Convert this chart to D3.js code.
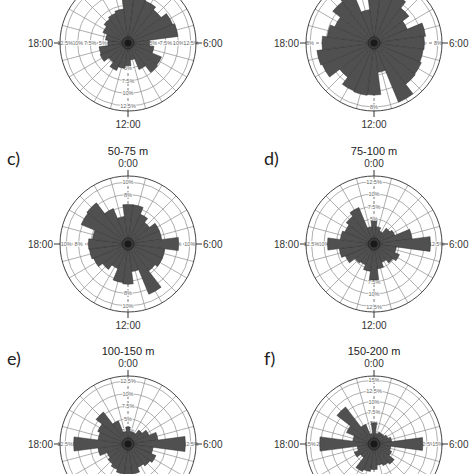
<!DOCTYPE html>
<html>
<head>
<meta charset="utf-8">
<script src="https://cdn.jsdelivr.net/npm/d3@7"></script>
<style>
html, body { margin: 0; padding: 0; background: #fff; }
svg { display: block; }
.ringlabels { opacity: 0.99; }
</style>
</head>
<body>
<div id="vis"></div>
<script>
// hourly share of records (%) per depth class
const hours = d3.range(24);
const panelLetters = ["a)", "b)", "c)", "d)", "e)", "f)"];
const panelTitles = [null, null, "50-75 m", "75-100 m", "100-150 m", "150-200 m"];
const valuesA = [11, 10, 9, 8.3, 9.6, 10, 4.3, 5.2, 7.2, 7.4, 5.7, 3.4, 4.5, 5.1, 5.9, 4.8, 6, 5.8, 4, 4.5, 5.4, 6, 6.4, 6.8];
const valuesB = [7.5, 7.2, 6.5, 5.5, 4.5, 6.5, 6.3, 6.2, 6.4, 6.5, 8, 3.7, 6.5, 6.6, 6.5, 5.4, 7, 7.2, 6.5, 5.9, 5.3, 6.5, 7, 4.2];
const valuesC = [6.4, 6.4, 5.2, 4.4, 5.5, 5.5, 8.2, 6, 6, 5.5, 8.8, 4.5, 6.5, 6.3, 4.3, 5.2, 6, 6.3, 6.4, 5.8, 8.2, 8.4, 6.2, 4.5];
const valuesD = [4.6, 3.5, 2.8, 4, 4.5, 7.7, 11.3, 4.5, 5.5, 4.8, 4, 5, 7.2, 5.5, 4.5, 4.8, 6.2, 7, 9.3, 6.8, 6.3, 7, 7.9, 3.5];
const valuesE = [3.4, 2.5, 2.5, 3.5, 4.5, 6, 11.4, 5, 6, 5.5, 5, 6, 9, 6, 5.5, 5, 4.5, 6, 10.8, 6, 6.5, 8, 5, 2.5];
const valuesF = [5, 2.5, 3, 3, 3.5, 4.2, 11.5, 4, 4.5, 6, 5.5, 5, 6, 6.5, 7, 4, 5, 4, 12.8, 5, 7, 11, 5, 2.5];
const scaleMax = [13.5, 8.5, 11, 13.6, 13.5, 16];
const ringStep = [2.5, 2, 2, 2.5, 2.5, 2.5];
const axisLabels = ["0:00", "6:00", "12:00", "18:00"];

const allValues = [valuesA, valuesB, valuesC, valuesD, valuesE, valuesF];

const width = 474, height = 474;
const R = 68;
const colX = [128, 374];
const rowY = [43, 244, 444];

const svg = d3.select("#vis").append("svg")
  .attr("width", width)
  .attr("height", height)
  .style("font-family", "'Liberation Sans', Arial, sans-serif");

const deg = Math.PI / 180;
const px = (a, r) => Math.sin(a) * r;
const py = (a, r) => -Math.cos(a) * r;

function drawRose(g, values, max, step) {
  const r = d3.scaleLinear().domain([0, max]).range([0, R]);
  const rings = d3.range(step, max, step);

  g.append("circle").attr("r", R).attr("fill", "#fff");

  g.selectAll(".ring").data(rings).join("circle")
    .attr("class", "ring")
    .attr("r", d => r(d))
    .attr("fill", "none")
    .attr("stroke", "#8c8c8c")
    .attr("stroke-width", 0.7);

  // spokes every hour, the four main axes get dashes
  g.selectAll(".spoke").data(hours.filter(h => h % 6 !== 0)).join("line")
    .attr("class", "spoke")
    .attr("x1", h => px(h * 15 * deg, r(step)))
    .attr("y1", h => py(h * 15 * deg, r(step)))
    .attr("x2", h => px(h * 15 * deg, R))
    .attr("y2", h => py(h * 15 * deg, R))
    .attr("stroke", "#8c8c8c")
    .attr("stroke-width", 0.7);

  g.selectAll(".axis").data([0, 6, 12, 18]).join("line")
    .attr("class", "axis")
    .attr("x1", 0).attr("y1", 0)
    .attr("x2", h => px(h * 15 * deg, R))
    .attr("y2", h => py(h * 15 * deg, R))
    .attr("stroke", "#555")
    .attr("stroke-width", 0.8)
    .attr("stroke-dasharray", "3,2");

  // ring value labels on the four axes (under the bars)
  const fmt = v => (+v.toFixed(1)) + "%";
  const lg = g.append("g").attr("class", "ringlabels");
  [0, 6, 12, 18].forEach(h => {
    lg.selectAll(".rl" + h).data(rings).join("text")
      .attr("class", "rl" + h)
      .attr("x", d => px(h * 15 * deg, r(d)))
      .attr("y", d => py(h * 15 * deg, r(d)) + 2)
      .attr("text-anchor", "middle")
      .attr("font-size", 5.5)
      .attr("fill", "#666")
      .attr("stroke", "#fff")
      .attr("stroke-width", 1.5)
      .attr("paint-order", "stroke")
      .text(fmt);
  });

  const arc = d3.arc()
    .innerRadius(0)
    .outerRadius(d => r(d.v))
    .startAngle(d => (d.h * 15 - 7.5) * deg)
    .endAngle(d => (d.h * 15 + 7.5) * deg);

  g.selectAll(".bar").data(hours.map(h => ({ h: h, v: values[h] }))).join("path")
    .attr("class", "bar")
    .attr("d", arc)
    .attr("fill", "#505050")
    .attr("stroke", "#2e2e2e")
    .attr("stroke-width", 0.5);

  g.append("circle").attr("r", R)
    .attr("fill", "none").attr("stroke", "#444").attr("stroke-width", 1);

  g.append("circle").attr("r", 6)
    .attr("fill", "#3a3a3a").attr("stroke", "#222").attr("stroke-width", 0.8);
  g.append("circle").attr("r", 3.5).attr("fill", "#1a1a1a");

  // outside ticks and hour labels
  g.selectAll(".tick").data([0, 6, 12, 18]).join("line")
    .attr("class", "tick")
    .attr("x1", h => px(h * 15 * deg, R))
    .attr("y1", h => py(h * 15 * deg, R))
    .attr("x2", h => px(h * 15 * deg, R + 6))
    .attr("y2", h => py(h * 15 * deg, R + 6))
    .attr("stroke", "#333")
    .attr("stroke-width", 1);

  g.append("text").attr("x", 0).attr("y", -R - 9.5)
    .attr("text-anchor", "middle").attr("font-size", 10).attr("fill", "#333").text(axisLabels[0]);
  g.append("text").attr("x", R + 7).attr("y", 3.5)
    .attr("text-anchor", "start").attr("font-size", 10).attr("fill", "#333").text(axisLabels[1]);
  g.append("text").attr("x", 0).attr("y", R + 16.5)
    .attr("text-anchor", "middle").attr("font-size", 10).attr("fill", "#333").text(axisLabels[2]);
  g.append("text").attr("x", -R - 7).attr("y", 3.5)
    .attr("text-anchor", "end").attr("font-size", 10).attr("fill", "#333").text(axisLabels[3]);
}

allValues.forEach((vals, i) => {
  const cx = colX[i % 2], cy = rowY[Math.floor(i / 2)];
  const g = svg.append("g").attr("transform", `translate(${cx},${cy})`);
  drawRose(g, vals, scaleMax[i], ringStep[i]);

  // the top row's titles sit above the cropped edge
  if (panelTitles[i] === null) return;

  g.append("text").attr("x", 0).attr("y", -R - 21)
    .attr("text-anchor", "middle").attr("font-size", 11).attr("fill", "#222")
    .text(panelTitles[i]);

  svg.append("text")
    .attr("x", i % 2 === 0 ? 7 : 264)
    .attr("y", cy - 79)
    .attr("font-family", "Lato, 'Open Sans', sans-serif")
    .attr("font-size", 18)
    .attr("fill", "#222")
    .text(panelLetters[i]);
});
</script>
</body>
</html>
